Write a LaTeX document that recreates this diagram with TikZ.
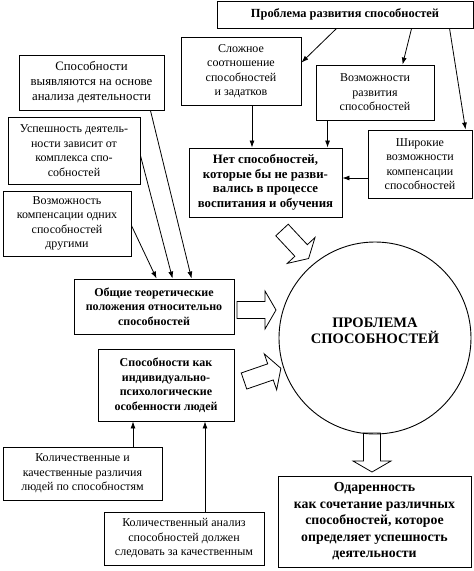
\documentclass[tikz,border=0pt]{standalone}
\usepackage{fontspec}
\setmainfont{Liberation Serif}
\usetikzlibrary{arrows.meta,calc}

\def\bshaft{8.5}
\def\bhead{19}
\def\bneck{28}
\def\blen{39}

\tikzset{
    box/.style={draw, line width=0.9pt, align=center, inner sep=0pt,
        font=\fontsize{12}{14.5}\selectfont},
    boldbox/.style={box, font=\bfseries\fontsize{12}{14.5}\selectfont},
    arr/.style={-{Latex[length=7pt,width=5pt]}, line width=0.8pt},
    blockarr/.style={draw, line width=0.8pt, line join=miter},
}

\begin{document}
\begin{tikzpicture}[x=1pt,y=-1pt]
    \useasboundingbox (0,0) rectangle (474,571);

    \node[boldbox, minimum width=256pt, minimum height=27pt, font=\bfseries\fontsize{12.4}{14.5}\selectfont] (prob) at (345,14.5) {Проблема развития способностей};
    \node[box, minimum width=120pt, minimum height=68pt] (slozh) at (241,71) {Сложное\\соотношение\\способностей\\и задатков};
    \node[box, minimum width=118pt, minimum height=55pt] (vozm) at (375,92.5) {Возможности\\развития\\способностей};
    \node[box, minimum width=104pt, minimum height=68pt] (shir) at (420,164) {Широкие\\возможности\\компенсации\\способностей};
    \node[boldbox, minimum width=153pt, minimum height=69pt, font=\bfseries\fontsize{12.8}{14.5}\selectfont] (net) at (265.5,182.5) {Нет способностей,\\которые бы не разви-\\вались в процессе\\воспитания и обучения};

    \node[box, minimum width=145pt, minimum height=55pt, font=\fontsize{12.8}{15}\selectfont] (vyyav) at (91.5,82.5) {Способности\\выявляются на основе\\анализа деятельности};
    \node[box, minimum width=132pt, minimum height=67pt] (uspesh) at (74,150.5) {Успешность деятель-\\ности зависит от\\комплекса спо-\\собностей};
    \node[box, minimum width=128pt, minimum height=65pt] (komp) at (67,223.5) {Возможность\\компенсации одних\\способностей\\другими};
    \node[boldbox, minimum width=160pt, minimum height=55pt] (obsh) at (154,306.5) {Общие теоретические\\положения относительно\\способностей};

    \node[draw, line width=0.9pt, circle, minimum size=192pt,
        label={[align=center, yshift=7pt, font=\bfseries\fontsize{14.5}{16}\selectfont]center:ПРОБЛЕМА\\СПОСОБНОСТЕЙ}] (probl) at (375,338) {};

    \node[boldbox, minimum width=136pt, minimum height=72pt] (indiv) at (166,385) {Способности как\\индивидуально-\\психологические\\особенности людей};
    \node[box, minimum width=159pt, minimum height=53pt] (kolich) at (82.5,473.5) {Количественные и\\качественные различия\\людей по способностям};
    \node[box, minimum width=160pt, minimum height=53pt] (analiz) at (184,538.5) {Количественный анализ\\способностей должен\\следовать за качественным};
    \node[boldbox, minimum width=193pt, minimum height=91pt, font=\bfseries\fontsize{13.8}{16.5}\selectfont] (odar) at (374.5,521.5) {Одаренность\\как сочетание различных\\способностей, которое\\определяет успешность\\деятельности};

    \draw[arr] ($(prob.south west)+(120,0)$) -- ($(slozh.north east)+(0,26)$);
    \draw[arr] ($(prob.south west)+(195,0)$) -- ($(vozm.north west)+(87,0)$);
    \draw[arr] ($(prob.south west)+(233,0)$) -- ($(shir.north west)+(98,0)$);
    \draw[arr] ($(slozh.south)+(11,0)$) coordinate (s1) -- (s1 |- net.north);
    \draw[arr] ($(vozm.south west)+(12,0)$) coordinate (s2) -- (s2 |- net.north);
    \draw[arr] ($(shir.west)+(0,14)$) coordinate (s3) -- (s3 -| net.east);

    \draw[arr] ($(vyyav.south east)+(-14,0)$) -- ($(obsh.north west)+(118,0)$);
    \draw[arr] ($(uspesh.east)+(0,5)$) -- ($(obsh.north west)+(99,0)$);
    \draw[arr] ($(komp.east)+(0,2)$) -- ($(obsh.north west)+(83,0)$);

    \draw[arr] ($(kolich.north)+(50.5,0)$) coordinate (s4) -- (s4 |- indiv.south);
    \draw[arr] ($(analiz.north)+(21,0)$) coordinate (s5) -- (s5 |- indiv.south);

    \draw[blockarr, shift={(282,230)}, rotate=-47] (0,-\bshaft) -- (\bneck,-\bshaft) -- (\bneck,-\bhead) -- (\blen,0) -- (\bneck,\bhead) -- (\bneck,\bshaft) -- (0,\bshaft) -- cycle;
    \draw[blockarr, shift={(237,310)}] (0,-\bshaft) -- (\bneck,-\bshaft) -- (\bneck,-\bhead) -- (\blen,0) -- (\bneck,\bhead) -- (\bneck,\bshaft) -- (0,\bshaft) -- cycle;
    \draw[blockarr, shift={(244,381)}, rotate=19] (0,-\bshaft) -- (\bneck,-\bshaft) -- (\bneck,-\bhead) -- (\blen,0) -- (\bneck,\bhead) -- (\bneck,\bshaft) -- (0,\bshaft) -- cycle;
    \draw[blockarr, shift={(372,433)}, rotate=-90] (0,-\bshaft) -- (\bneck,-\bshaft) -- (\bneck,-\bhead) -- (\blen,0) -- (\bneck,\bhead) -- (\bneck,\bshaft) -- (0,\bshaft) -- cycle;
\end{tikzpicture}
\end{document}
